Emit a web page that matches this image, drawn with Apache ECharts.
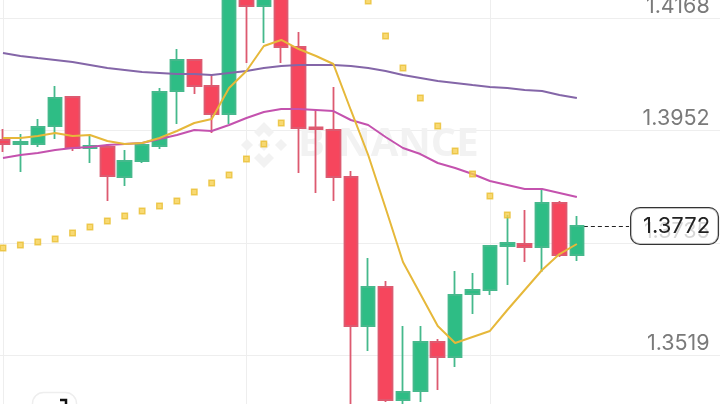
<!DOCTYPE html>
<html><head><meta charset="utf-8">
<style>html,body{margin:0;padding:0;background:#fff}#c{width:720px;height:404px}</style>
<script src="https://cdn.jsdelivr.net/npm/echarts@6/dist/echarts.min.js"></script>
</head><body><div id="c"></div>
<script>
// [open, close, low, high]
const candles = [
[1.39336,1.39259,1.39105,1.39548],[1.39259,1.39297,1.38720,1.39451],[1.39259,1.39586,1.39201,1.39740],
[1.39605,1.40145,1.39355,1.40376],[1.40164,1.39182,1.39124,1.40183],[1.39182,1.39220,1.38893,1.39413],
[1.39201,1.38643,1.38161,1.39259],[1.38623,1.38931,1.38450,1.39143],[1.38931,1.39240,1.38893,1.39278],
[1.39220,1.40260,1.39163,1.40337],[1.40280,1.40877,1.39644,1.41088],[1.40877,1.40376,1.40222,1.40877],
[1.40376,1.39837,1.39471,1.40588],[1.39837,1.42610,1.39644,1.42802],[1.42186,1.41916,1.40819,1.42263],
[1.41916,1.42186,1.41204,1.42263],[1.42321,1.41127,1.40819,1.42417],[1.41127,1.39567,1.38700,1.41416],
[1.39577,1.39548,1.38315,1.39914],[1.39528,1.38623,1.38161,1.40357],[1.38623,1.35754,1.33944,1.38739],
[1.35754,1.36505,1.35272,1.37063],[1.36505,1.34329,1.34290,1.36620],[1.34329,1.34483,1.34136,1.35754],
[1.34502,1.35446,1.34290,1.35754],[1.35446,1.35157,1.34521,1.35504],[1.35157,1.36351,1.34964,1.36813],
[1.36370,1.36447,1.35985,1.36775],[1.36447,1.37295,1.36351,1.37314],[1.37295,1.37352,1.36543,1.37892],
[1.37333,1.37275,1.36986,1.37988],[1.37275,1.38123,1.36794,1.38392],[1.38123,1.37121,1.37083,1.38161],
[1.37121,1.37680,1.37006,1.37872]];
const ma7 = [1.39374,1.39374,1.39413,1.39471,1.39413,1.39432,1.39317,1.39259,1.39278,1.39374,1.39509,1.39663,1.39740,1.40337,1.40665,1.41146,1.41262,1.41088,1.40954,1.40799,1.39914,1.39047,1.38026,1.36986,1.36370,1.35754,1.35426,1.35542,1.35658,1.36062,1.36447,1.36832,1.37140,1.37333];
const ma25 = [1.38989,1.39047,1.39086,1.39143,1.39182,1.39201,1.39240,1.39259,1.39278,1.39355,1.39432,1.39528,1.39509,1.39625,1.39760,1.39875,1.39933,1.39933,1.39914,1.39894,1.39721,1.39625,1.39394,1.39182,1.39066,1.38893,1.38797,1.38681,1.38546,1.38469,1.38392,1.38392,1.38315,1.38238];
const ma99 = [1.41011,1.40954,1.40915,1.40877,1.40838,1.40780,1.40722,1.40684,1.40645,1.40626,1.40607,1.40607,1.40588,1.40626,1.40665,1.40722,1.40761,1.40780,1.40780,1.40780,1.40761,1.40722,1.40665,1.40588,1.40530,1.40472,1.40434,1.40395,1.40357,1.40337,1.40299,1.40280,1.40202,1.40145];
const sar = [1.37256,1.37314,1.37372,1.37429,1.37545,1.37660,1.37776,1.37872,1.37969,1.38065,1.38161,1.38334,1.38508,1.38662,1.38970,1.39259,1.39663,'-','-','-','-',1.42013,1.41339,1.40722,1.40145,1.39605,1.39124,1.38681,1.38257,1.37892];
const yTicks = [1.4168,1.3952,1.3735,1.3519];
const lastPriceLabel = '1.3772';
const lastPrice = 1.3768;
const slots = 42;
const categories = Array.from({length:slots},(_,i)=>String(i));
const watermark = 'BINANCE';

const chart = echarts.init(document.getElementById('c'),null,{renderer:'canvas'});
const mark='#f2f2f2';
chart.setOption({
  animation:false,
  grid:{left:-5.7,top:0,width:730.38,height:404,outerBoundsMode:'none'},
  xAxis:{type:'category',data:categories,boundaryGap:true,
    axisLine:{show:false},axisTick:{show:false},axisLabel:{show:false},
    splitLine:{show:true,alignWithLabel:true,interval:(i)=>i%14===0,lineStyle:{color:'#eeeeee',width:1}}},
  yAxis:{type:'value',position:'right',min:1.42032-404*0.00019258,max:1.42032,scale:true,
    axisLine:{show:false},
    axisTick:{show:false,customValues:yTicks},
    axisLabel:{inside:true,customValues:yTicks,margin:15,verticalAlign:'bottom',lineHeight:23,
      color:'#7a7a7a',fontFamily:'Inter',fontSize:21.5,formatter:v=>v.toFixed(4)},
    splitLine:{show:true,lineStyle:{color:'#eeeeee',width:1}}},
  graphic:[
    {type:'polygon',z:1,shape:{points:[[264,122],[274,132],[269,137],[264,132],[259,137],[254,132]]},style:{fill:mark}},
    {type:'polygon',z:1,shape:{points:[[264,168],[274,158],[269,153],[264,158],[259,153],[254,158]]},style:{fill:mark}},
    {type:'polygon',z:1,shape:{points:[[264,139],[270,145],[264,151],[258,145]]},style:{fill:mark}},
    {type:'polygon',z:1,shape:{points:[[247,139],[253,145],[247,151],[241,145]]},style:{fill:mark}},
    {type:'polygon',z:1,shape:{points:[[281,139],[287,145],[281,151],[275,145]]},style:{fill:mark}},
    {type:'text',z:1,x:298,y:125,style:{text:watermark,fill:mark,font:'bold 40px "Open Sans"'}},
    {type:'rect',z:30,shape:{x:32.5,y:392.5,width:44,height:30,r:11},style:{fill:'#fff',stroke:'#eeeeee',lineWidth:1.5}},
    {type:'polyline',z:31,shape:{points:[[60,400],[66,400],[66,404]]},style:{fill:'none',stroke:'#111',lineWidth:2.5}}
  ],
  series:[
    {type:'line',z:5,data:[],markLine:{silent:true,symbol:'none',animation:false,
      lineStyle:{color:'#222',type:[4,3],width:1},
      label:{show:true,position:'end',distance:2,align:'left',verticalAlign:'middle',formatter:lastPriceLabel,
        fontFamily:'Inter',fontSize:22,color:'#222',backgroundColor:'rgba(255,255,255,0.7)',
        borderColor:'#333',borderWidth:1,borderRadius:9,padding:[7,8,7,12]},
      data:[[{coord:[33,lastPrice]},{coord:[36,lastPrice]}]]}},
    {type:'candlestick',z:6,data:candles,barWidth:14,
      itemStyle:{color:'#2ebd85',color0:'#f6465d',borderColor:'#45b98c',borderColor0:'#dd5a70',borderWidth:1.8}},
    {type:'line',z:7,data:ma99,showSymbol:false,lineStyle:{color:'#8466a8',width:2}},
    {type:'line',z:7,data:ma25,showSymbol:false,lineStyle:{color:'#c452ae',width:2}},
    {type:'line',z:8,data:ma7,showSymbol:false,lineStyle:{color:'#e6b83a',width:2}},
    {type:'scatter',z:9,data:sar,symbol:'rect',symbolSize:5.5,
      itemStyle:{color:'#f6cf50',borderColor:'#eabf33',borderWidth:1.4}}
  ]
});
</script></body></html>
